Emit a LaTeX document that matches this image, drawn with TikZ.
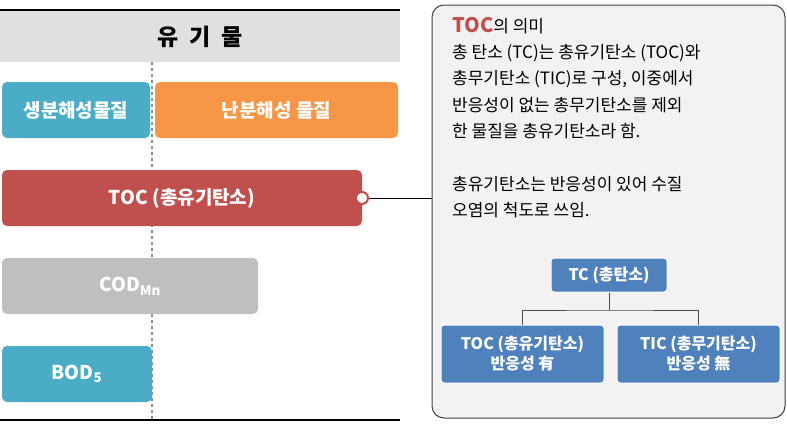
\documentclass[tikz,border=0pt]{standalone}
\usepackage{fontspec}
\setmainfont{Noto Sans CJK KR}
\begin{document}
\begin{tikzpicture}[x=1pt,y=-1pt,
  bar/.style={rounded corners=5pt,inner sep=0pt,font=\bfseries\fontsize{19}{22}\selectfont,text=white},
  bbox/.style={draw=white,line width=1pt,fill={rgb,255:red,79;green,129;blue,189},rounded corners=3pt,text=white,font=\bfseries\fontsize{16}{20}\selectfont,align=center,inner sep=0pt},
  ln/.style={draw=black!70,line width=0.8pt}]
\useasboundingbox (0,0) rectangle (787,424);
\fill[black!12] (0,10) rectangle (400,62);
\draw[line width=1.5pt] (0,10) -- (400,10);
\draw[line width=1.5pt] (0,420) -- (400,420);
\node[font=\bfseries\fontsize{23}{26}\selectfont] (t) at (200,37) {유\ \ 기\ \ 물};
\draw[black!45,dashed,line width=1.2pt] (152,62) -- (152,420);
\node[bar,fill={rgb,255:red,75;green,172;blue,198},minimum width=148pt,minimum height=56pt] (bio) at (76,110) {생분해성물질};
\node[bar,fill={rgb,255:red,247;green,150;blue,70},minimum width=243pt,minimum height=56pt] (non) at (276.5,110) {난분해성 물질};
\node[bar,fill={rgb,255:red,192;green,80;blue,77},minimum width=360pt,minimum height=56pt] (toc) at (182,198) {TOC (총유기탄소)};
\node[bar,fill=black!25,minimum width=256pt,minimum height=56pt] (cod) at (130,286) {COD\textsubscript{Mn}};
\node[bar,fill={rgb,255:red,75;green,172;blue,198},minimum width=150pt,minimum height=56pt] (bod) at (77,374) {BOD\textsubscript{5}};
\node[draw=black!75,line width=1pt,fill=black!5,rounded corners=12pt,minimum width=353pt,minimum height=413pt] (panel) at (608.5,211.5) {};
\node[circle,draw={rgb,255:red,192;green,80;blue,77},line width=2pt,fill=white,minimum size=12pt,inner sep=0pt] (dot) at (362,198) {};
\draw[line width=1pt] (dot) -- (panel.west|-dot);
\node[anchor=north west,align=left,inner sep=0pt,font=\fontsize{17}{26.3}\selectfont] (txt) at (452,17)
{{\color[RGB]{192,80,77}\bfseries\fontsize{20}{26}\selectfont TOC}의 의미\\
총 탄소 (TC)는 총유기탄소 (TOC)와\\
총무기탄소 (TIC)로 구성, 이중에서\\
반응성이 없는 총무기탄소를 제외\\
한 물질을 총유기탄소라 함.\\[26.3pt]
총유기탄소는 반응성이 있어 수질\\
오염의 척도로 쓰임.};
\node[bbox,minimum width=116pt,minimum height=34pt] (tc) at (609,275) {TC (총탄소)};
\node[bbox,minimum width=163pt,minimum height=58pt] (btoc) at (522.5,354) {TOC (총유기탄소)\\반응성 有};
\node[bbox,minimum width=163pt,minimum height=58pt] (btic) at (698.5,354) {TIC (총무기탄소)\\반응성 無};
\coordinate (m) at (609,310);
\draw[ln] (tc) -- (m);
\draw[ln] (btoc.north) |- (m) -| (btic.north);
\end{tikzpicture}
\end{document}
